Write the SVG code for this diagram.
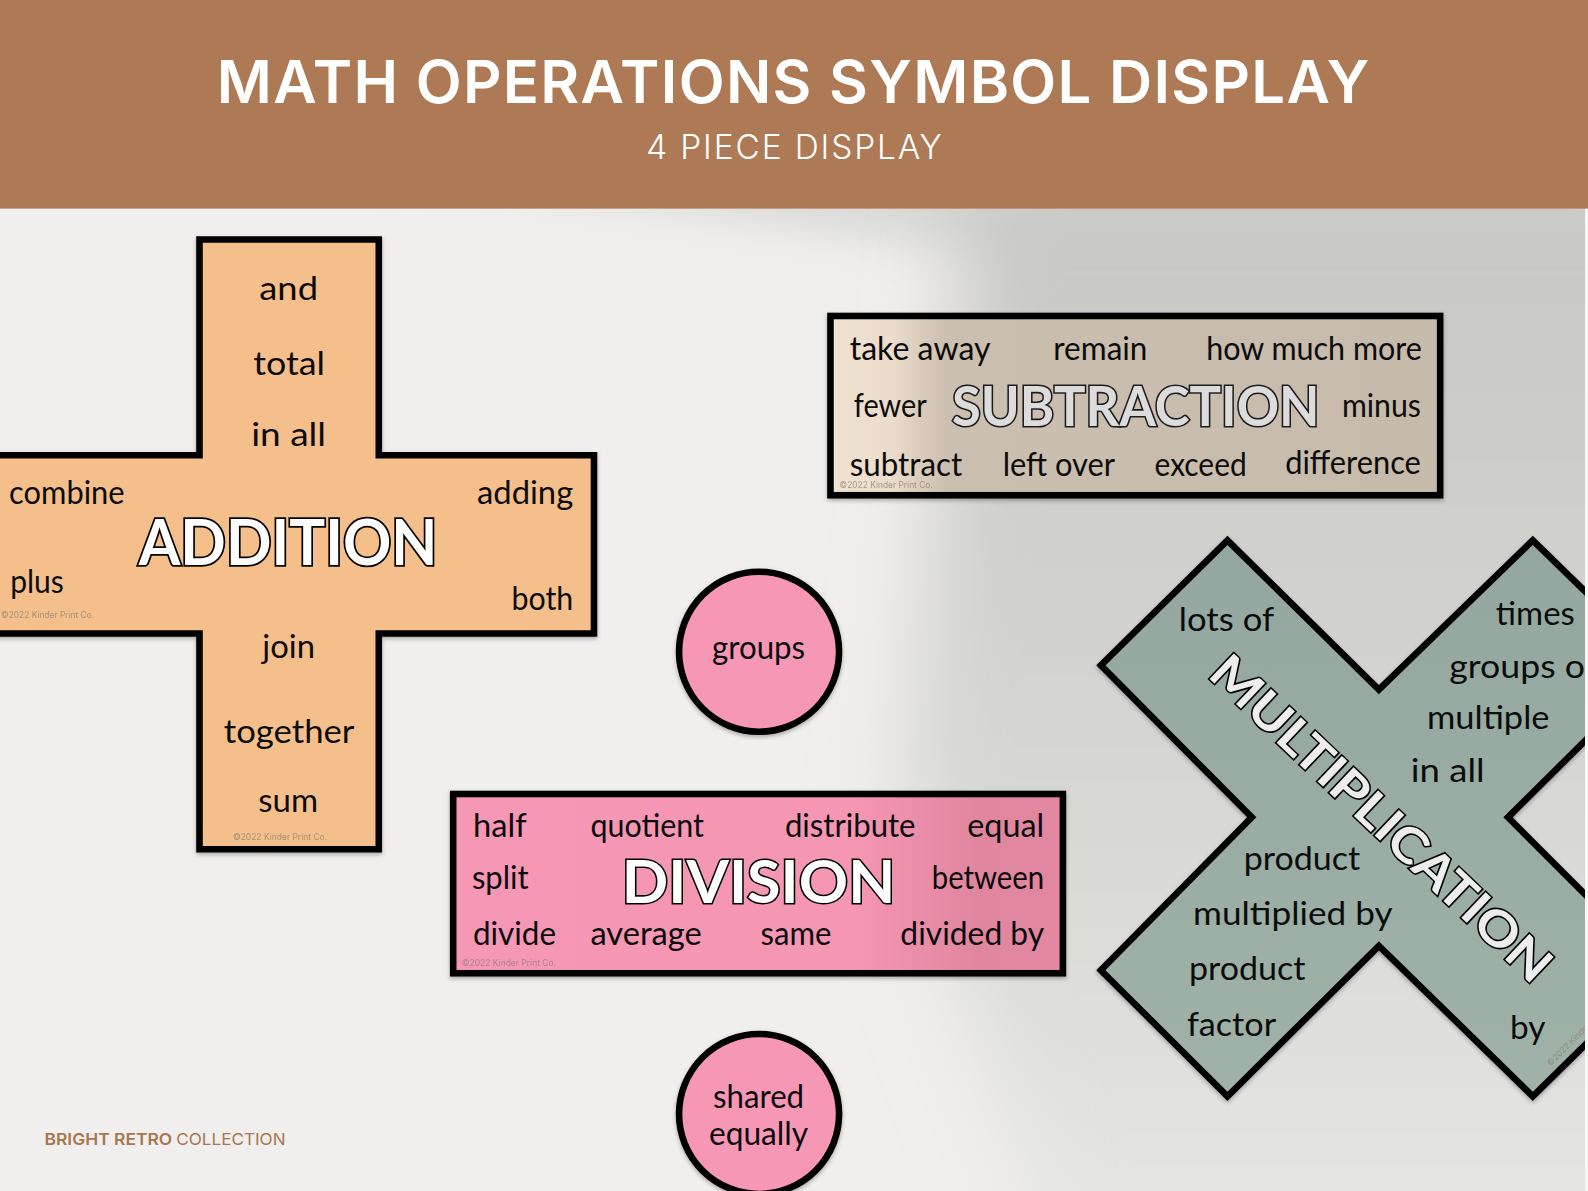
<svg xmlns="http://www.w3.org/2000/svg" width="1588" height="1191" viewBox="0 0 1588 1191">
<style>
.w{font-family:"Lato","Liberation Sans",sans-serif;font-size:32px;fill:#0c0c0c;letter-spacing:0}
.t{font-family:"Lato","Liberation Sans",sans-serif;font-weight:700;stroke:#000;stroke-width:3.6px;paint-order:stroke fill;stroke-linejoin:miter;fill:#fff}
.c{font-family:"Inter","Liberation Sans",sans-serif;font-size:8.5px;fill:#8a7f78;opacity:.75}
.k{stroke:#000;stroke-width:6.5;stroke-linejoin:miter;filter:url(#ds)}
</style>
<defs>
<filter id="ds" x="-5%" y="-5%" width="110%" height="110%"><feDropShadow dx="0" dy="2" stdDeviation="2" flood-color="#000" flood-opacity=".3"/></filter>
<filter id="b40" x="-30%" y="-30%" width="160%" height="160%"><feGaussianBlur stdDeviation="42"/></filter>
<filter id="b15" x="-30%" y="-50%" width="160%" height="200%"><feGaussianBlur stdDeviation="22"/></filter>
<linearGradient id="sub" x1="0" x2="1" y1="0" y2="0"><stop offset="0" stop-color="#F0E1D0"/><stop offset=".1" stop-color="#EBDCCB"/><stop offset=".19" stop-color="#CBBFAF"/><stop offset="1" stop-color="#C6BAAB"/></linearGradient>
<linearGradient id="div" x1="0" x2="1" y1="0" y2="0"><stop offset="0" stop-color="#F698B5"/><stop offset=".66" stop-color="#F596B3"/><stop offset=".86" stop-color="#E0869F"/><stop offset="1" stop-color="#E2879F"/></linearGradient>
<linearGradient id="mul" x1="0" x2="0" y1="0" y2="1"><stop offset="0" stop-color="#93A7A0"/><stop offset="1" stop-color="#A0B2A7"/></linearGradient>
<linearGradient id="sh" x1="0" x2="0" y1="0" y2="1"><stop offset="0" stop-color="#C6C6C4"/><stop offset=".45" stop-color="#D3D3D1"/><stop offset="1" stop-color="#E7E7E5"/></linearGradient>
<clipPath id="page"><rect x="0" y="0" width="1565" height="1176"/></clipPath>
</defs>
<rect width="1588" height="1191" fill="#F8F8F6"/>
<g transform="scale(1.01276)">
<g clip-path="url(#page)">
<rect x="0" y="206" width="1568" height="970" fill="#F0EFED"/>
<path d="M380 160H1600V250H980L900 240Z" fill="#D8D8D6" filter="url(#b15)"/>
<path d="M960 170H1680V1260H1040L890 800Z" fill="url(#sh)" filter="url(#b40)"/>
</g>
<rect x="0" y="0" width="1568" height="206" fill="#AE7A55"/>
<text x="214" y="102" textLength="1138" lengthAdjust="spacing" font-family="Inter,'Liberation Sans',sans-serif" font-size="59" font-weight="600" fill="#fff">MATH OPERATIONS SYMBOL DISPLAY</text>
<text x="638" y="157" textLength="292" lengthAdjust="spacing" font-family="Inter,'Liberation Sans',sans-serif" font-size="33" font-weight="300" fill="#fff">4 PIECE DISPLAY</text>
<g id="connectors"/>

<g id="addition">
<path class="k" fill="#F5BF8B" d="M197 236.5H374V449.5H586.5V625.5H374V838.5H197V625.5H-12V449.5H197Z"/>
<text class="w" x="256" y="296" textLength="58" lengthAdjust="spacingAndGlyphs">and</text>
<text class="w" x="250" y="370" textLength="71" lengthAdjust="spacingAndGlyphs">total</text>
<text class="w" x="248" y="440" textLength="74" lengthAdjust="spacingAndGlyphs">in all</text>
<text class="w" x="9" y="498" textLength="114" lengthAdjust="spacingAndGlyphs">combine</text>
<text class="w" x="471" y="498" textLength="95" lengthAdjust="spacingAndGlyphs">adding</text>
<text class="w" x="10" y="586" textLength="53" lengthAdjust="spacingAndGlyphs">plus</text>
<text class="w" x="505" y="602" textLength="61" lengthAdjust="spacingAndGlyphs">both</text>
<text class="w" x="259" y="650" textLength="52" lengthAdjust="spacingAndGlyphs">join</text>
<text class="w" x="221" y="734" textLength="129" lengthAdjust="spacingAndGlyphs">together</text>
<text class="w" x="255" y="802" textLength="59" lengthAdjust="spacingAndGlyphs">sum</text>
<text class="t" x="137" y="558" font-size="62" textLength="295" lengthAdjust="spacingAndGlyphs">ADDITION</text>
<text class="c" x="1" y="610" textLength="92" lengthAdjust="spacingAndGlyphs">©2022 Kinder Print Co.</text>
<text class="c" x="230" y="829" textLength="93" lengthAdjust="spacingAndGlyphs">©2022 Kinder Print Co.</text>
</g>

<g id="subtraction">
<rect class="k" x="820" y="312" width="602" height="177" fill="url(#sub)"/>
<text class="w" x="839" y="355" textLength="139" lengthAdjust="spacingAndGlyphs">take away</text>
<text class="w" x="1040" y="355" textLength="93" lengthAdjust="spacingAndGlyphs">remain</text>
<text class="w" x="1191" y="355" textLength="213" lengthAdjust="spacingAndGlyphs">how much more</text>
<text class="w" x="843" y="412" textLength="72" lengthAdjust="spacingAndGlyphs">fewer</text>
<text class="w" x="1325" y="412" textLength="78" lengthAdjust="spacingAndGlyphs">minus</text>
<text class="w" x="839" y="470" textLength="111" lengthAdjust="spacingAndGlyphs">subtract</text>
<text class="w" x="990" y="470" textLength="111" lengthAdjust="spacingAndGlyphs">left over</text>
<text class="w" x="1140" y="470" textLength="91" lengthAdjust="spacingAndGlyphs">exceed</text>
<text class="w" x="1269" y="468" textLength="134" lengthAdjust="spacingAndGlyphs">difference</text>
<text class="t" x="940" y="421" font-size="54" textLength="363" lengthAdjust="spacingAndGlyphs" style="fill:#DCDCDC;stroke:#1c1c1c;stroke-width:3.2px">SUBTRACTION</text>
<text class="c" x="829" y="482" textLength="92" lengthAdjust="spacingAndGlyphs">©2022 Kinder Print Co.</text>
</g>

<g id="division">
<rect class="k" x="447.5" y="784" width="602" height="177" fill="url(#div)"/>
<text class="w" x="467" y="826" textLength="53" lengthAdjust="spacingAndGlyphs">half</text>
<text class="w" x="583" y="826" textLength="112" lengthAdjust="spacingAndGlyphs">quotient</text>
<text class="w" x="775" y="826" textLength="129" lengthAdjust="spacingAndGlyphs">distribute</text>
<text class="w" x="955" y="826" textLength="76" lengthAdjust="spacingAndGlyphs">equal</text>
<text class="w" x="466" y="878" textLength="56" lengthAdjust="spacingAndGlyphs">split</text>
<text class="w" x="920" y="878" textLength="111" lengthAdjust="spacingAndGlyphs">between</text>
<text class="w" x="467" y="933" textLength="82" lengthAdjust="spacingAndGlyphs">divide</text>
<text class="w" x="583" y="933" textLength="110" lengthAdjust="spacingAndGlyphs">average</text>
<text class="w" x="751" y="933" textLength="70" lengthAdjust="spacingAndGlyphs">same</text>
<text class="w" x="889" y="933" textLength="142" lengthAdjust="spacingAndGlyphs">divided by</text>
<text class="t" x="614" y="892" font-size="58" textLength="270" lengthAdjust="spacingAndGlyphs" style="stroke-width:3px">DIVISION</text>
<text class="c" x="456" y="954" textLength="93" lengthAdjust="spacingAndGlyphs">©2022 Kinder Print Co.</text>
</g>

<g id="groups">
<circle class="k" cx="749.5" cy="643.5" r="79" fill="#F698B5"/>
<text class="w" x="703" y="651" textLength="92" lengthAdjust="spacingAndGlyphs">groups</text>
</g>

<g id="shared-equally">
<circle class="k" cx="749.5" cy="1100" r="79" fill="#F698B5"/>
<text class="w" x="704" y="1094" textLength="90" lengthAdjust="spacingAndGlyphs">shared</text>
<text class="w" x="700" y="1131" textLength="98" lengthAdjust="spacingAndGlyphs">equally</text>
</g>

<g id="multiplication" clip-path="url(#page)">
<path class="k" fill="url(#mul)" d="M1212 533.5L1361.5 681L1513.5 533.5L1640 657L1489 807L1640 958L1513.5 1082.5L1361.5 934L1212 1082.5L1087 958L1236 807L1087 657Z"/>
<text class="w" x="1164" y="623" textLength="94" lengthAdjust="spacingAndGlyphs">lots of</text>
<text class="w" x="1477" y="617" textLength="78" lengthAdjust="spacingAndGlyphs">times</text>
<text class="w" x="1431" y="669" textLength="146" lengthAdjust="spacingAndGlyphs">groups of</text>
<text class="w" x="1409" y="720" textLength="121" lengthAdjust="spacingAndGlyphs">multiple</text>
<text class="w" x="1393" y="772" textLength="73" lengthAdjust="spacingAndGlyphs">in all</text>
<text class="w" x="1228" y="859" textLength="115" lengthAdjust="spacingAndGlyphs">product</text>
<text class="w" x="1178" y="913" textLength="197" lengthAdjust="spacingAndGlyphs">multiplied by</text>
<text class="w" x="1174" y="968" textLength="115" lengthAdjust="spacingAndGlyphs">product</text>
<text class="w" x="1172" y="1023" textLength="88" lengthAdjust="spacingAndGlyphs">factor</text>
<text class="w" x="1491" y="1026" textLength="35" lengthAdjust="spacingAndGlyphs">by</text>
<text class="t" transform="translate(1364 808) rotate(43.5)" x="-222" y="17" font-size="48" textLength="444" lengthAdjust="spacingAndGlyphs" style="fill:#EDEDED;stroke-width:3px">MULTIPLICATION</text>
<text class="c" transform="translate(1531 1053) rotate(-45)" x="0" y="0" textLength="92" lengthAdjust="spacingAndGlyphs">©2022 Kinder Print Co.</text>
</g>

<text x="44" y="1131" font-family="Inter,'Liberation Sans',sans-serif" font-size="16" font-weight="600" fill="#A9764F" textLength="126" lengthAdjust="spacingAndGlyphs">BRIGHT RETRO</text>
<text x="174" y="1131" font-family="Inter,'Liberation Sans',sans-serif" font-size="16" font-weight="400" fill="#A9764F" textLength="108" lengthAdjust="spacingAndGlyphs">COLLECTION</text>
</g>
</svg>
